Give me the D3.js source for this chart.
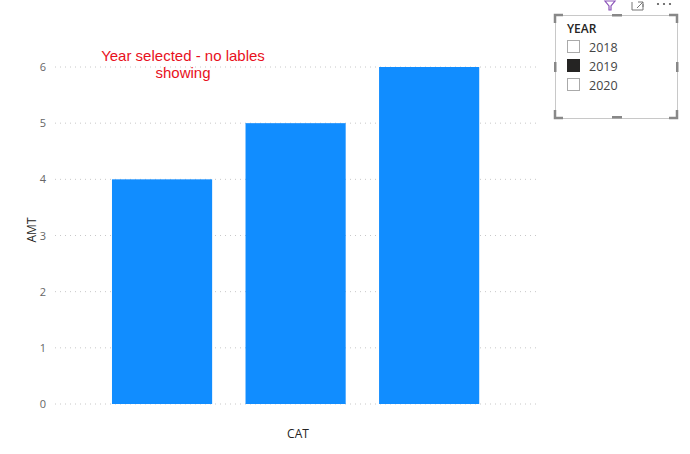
<!DOCTYPE html><html><head><meta charset="utf-8">
<script src="https://cdn.jsdelivr.net/npm/d3@7"></script>
<style>body{margin:0;background:#fff}</style></head><body>
<svg id="c" width="690" height="454"></svg>
<script>
const categories=["A","B","C"];
const values=[4,5,6];
const yTicks=[0,1,2,3,4,5,6];
const years=["2018","2019","2020"];
const selected=[false,true,false];
const svg=d3.select("#c");
const font="'Segoe UI','Open Sans',sans-serif";
const x=d3.scaleBand().domain(categories).range([78.6,512.6]).paddingInner(0.25).paddingOuter(0.25);
const y=d3.scaleLinear().domain([0,6]).range([404,67]);
yTicks.forEach(t=>{
 svg.append("line").attr("x1",55).attr("x2",540).attr("y1",y(t)).attr("y2",y(t))
  .attr("stroke","#c8c8c8").attr("stroke-dasharray","1,4");
 svg.append("text").attr("x",46).attr("y",y(t)+4).attr("text-anchor","end")
  .attr("font-family",font).attr("font-size",11).attr("fill","#666").text(t);
});
svg.selectAll("rect.b").data(values).enter().append("rect")
 .attr("x",(d,i)=>x(categories[i])).attr("width",x.bandwidth())
 .attr("y",d=>y(d)).attr("height",d=>y(0)-y(d)).attr("fill","#118DFF");
svg.append("text").attr("transform","translate(36,230) rotate(-90)").attr("text-anchor","middle")
 .attr("font-family",font).attr("font-size",12).attr("fill","#252423").text("AMT");
svg.append("text").attr("x",298).attr("y",438).attr("text-anchor","middle")
 .attr("font-family",font).attr("font-size",12).attr("fill","#252423").text("CAT");
const ann=svg.append("text").attr("text-anchor","middle").attr("font-family","Arial,'Liberation Sans',sans-serif")
 .attr("font-size",15).attr("fill","#e8101c");
ann.append("tspan").attr("x",183).attr("y",61).text("Year selected - no lables");
ann.append("tspan").attr("x",183).attr("y",78).text("showing");
// slicer
svg.append("rect").attr("x",555.5).attr("y",15.5).attr("width",122).attr("height",103).attr("fill","none").attr("stroke","#c8c8c8");
const g="#888";
[[555,15,1,1],[677,15,-1,1],[555,118,1,-1],[677,118,-1,-1]].forEach(([cx,cy,dx,dy])=>{
 svg.append("path").attr("d",`M${cx},${cy+8*dy}V${cy}H${cx+8*dx}`).attr("fill","none").attr("stroke",g).attr("stroke-width",2.5);
});
[[612,15,10,2.5],[612,117,10,2.5],[554,63,2.5,10],[676,63,2.5,10]].forEach(([a,b,w,h])=>svg.append("rect").attr("x",a).attr("y",b-1).attr("width",w).attr("height",h).attr("fill",g));
svg.append("text").attr("x",567).attr("y",33).attr("font-family",font).attr("font-size",12).attr("font-weight",600).attr("fill","#252423").text("YEAR");
years.forEach((yr,i)=>{
 const yy=47+i*19;
 svg.append("rect").attr("x",567.5).attr("y",yy-6.5).attr("width",12).attr("height",12)
  .attr("fill",selected[i]?"#252423":"#fff").attr("stroke",selected[i]?"#252423":"#aaa");
 svg.append("text").attr("x",589).attr("y",yy+4.5).attr("font-family",font).attr("font-size",12.5).attr("fill","#444").text(yr);
});
// header icons
svg.append("path").attr("d","M605,1 L615,1 L611,6 L611,10 L609,10 L609,6 Z").attr("fill","none").attr("stroke","#8a52b8").attr("stroke-width",1.2);
svg.append("path").attr("d","M632,2 V10 H643 V4 M638,2 H643 V7 M643,2 L637,8").attr("fill","none").attr("stroke","#777").attr("stroke-width",1);
[658,664,670].forEach(cx=>svg.append("circle").attr("cx",cx).attr("cy",4).attr("r",1.1).attr("fill","#555"));
</script></body></html>
